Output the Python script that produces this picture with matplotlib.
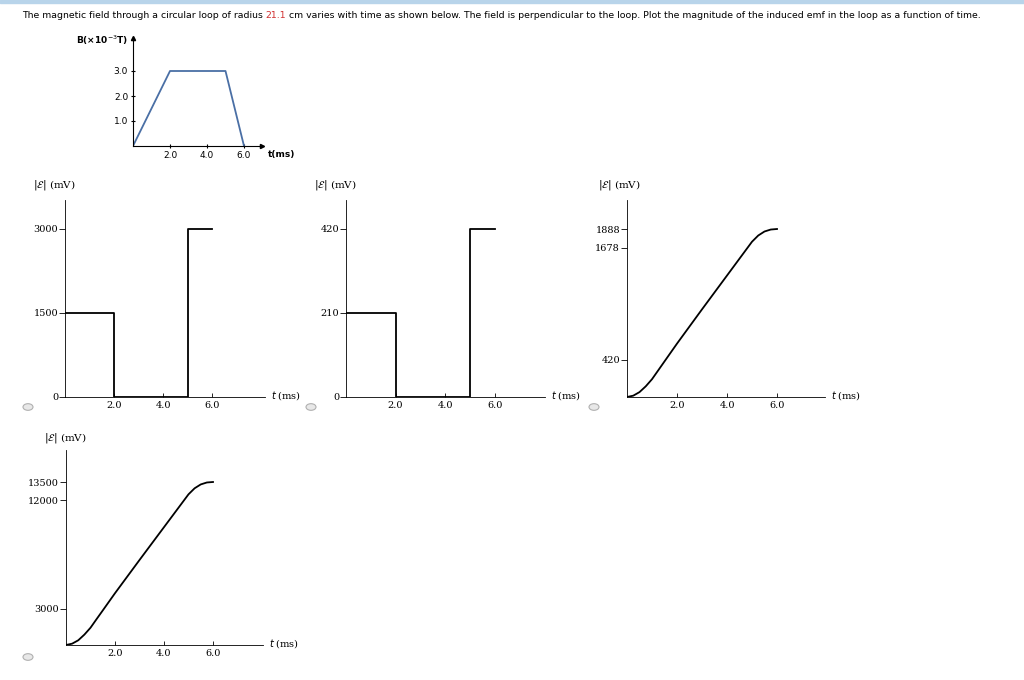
import matplotlib
matplotlib.use("Agg")
import matplotlib.pyplot as plt

W, H = 1024, 680
fig = plt.figure(figsize=(W/100, H/100), dpi=100)

# data
b_t = [0, 2, 5, 6]
b_v = [0, 3.0, 3.0, 0]
b_ticks = [2.0, 4.0, 6.0]
b_yticks = [1.0, 2.0, 3.0]

step_t = [0, 2, 2, 5, 5, 6]
stepA = [1500, 1500, 0, 0, 3000, 3000]
stepB = [210, 210, 0, 0, 420, 420]
curve_t = [0, 0.25, 0.5, 0.75, 1, 1.25, 1.5, 2, 3, 4, 5, 5.25, 5.5, 5.75, 6]
curveC = [0, 15, 55, 120, 200, 300, 400, 600, 985, 1365, 1745, 1815, 1860, 1882, 1888]
curveD = [0, 110, 390, 860, 1430, 2150, 2860, 4290, 7040, 9760, 12480, 12980, 13300, 13460, 13500]
xt = [2.0, 4.0, 6.0]
yA = [0, 1500, 3000]; yB = [0, 210, 420]; yC = [420, 1678, 1888]; yD = [3000, 12000, 13500]

def pax(x0, ytop, x1, ybot):
    return fig.add_axes([x0/W, 1-ybot/H, (x1-x0)/W, (ybot-ytop)/H])

fig.add_artist(plt.Rectangle((0, 1-3/H), 1, 3/H, color='#b8d4ea', transform=fig.transFigure))
parts = [("The magnetic field through a circular loop of radius ", 'black'), ("21.1", '#d03030'),
         (" cm varies with time as shown below. The field is perpendicular to the loop. Plot the magnitude of the induced emf in the loop as a function of time.", 'black')]
r = fig.canvas.get_renderer()
x = 22
for s, c in parts:
    t = fig.text(x/W, 1-16/H, s, fontsize=6.75, va='center', color=c)
    x += t.get_window_extent(r).width

ax = pax(133, 38, 262, 146)
ax.plot(b_t, b_v, color='#4a6fa5', lw=1.3)
ax.set_xlim(0, (262-133)/18.5); ax.set_ylim(0, 108/25)
for s in ['top', 'right']: ax.spines[s].set_visible(False)
ax.set_xticks(b_ticks); ax.set_xticklabels([f"{v:.1f}" for v in b_ticks], fontsize=6.5)
ax.set_yticks(b_yticks); ax.set_yticklabels([f"{v:.1f}" for v in b_yticks], fontsize=6.5)
ax.tick_params(length=3, width=0.8, direction='inout', pad=2)
ax.plot(1, 0, '>k', transform=ax.transAxes, clip_on=False, ms=3)
ax.plot(0, 1, '^k', transform=ax.transAxes, clip_on=False, ms=3)
fig.text(128/W, 1-40/H, r"B(×10$^{-3}$T)", fontsize=6.5, fontweight='bold', va='center', ha='right')
fig.text(268/W, 1-154/H, "t(ms)", fontsize=6.5, fontweight='bold', va='center')

def panel(x0, ybot, ms, x1, ytop, top_val, top_px, t, v, yt, lx, ly):
    ax = pax(x0, ytop, x1, ybot)
    ax.plot(t, v, color='black', lw=1.3)
    ax.set_xlim(0, (x1-x0)/ms)
    ax.set_ylim(0, (ybot-ytop)*top_val/(ybot-top_px))
    for s in ['top', 'right']: ax.spines[s].set_visible(False)
    for s in ['left', 'bottom']: ax.spines[s].set_linewidth(0.6)
    ax.set_xticks(xt); ax.set_xticklabels([f"{v:.1f}" for v in xt], fontsize=7, family='DejaVu Serif')
    ax.set_yticks(yt); ax.set_yticklabels([str(v) for v in yt], fontsize=7, family='DejaVu Serif')
    ax.tick_params(axis='y', length=4, width=0.6, direction='out', pad=1)
    ax.tick_params(axis='x', length=3, width=0.6, direction='in', pad=3)
    fig.text((x1+6)/W, 1-(ybot-1)/H, r"$t$ (ms)", fontsize=7, family='DejaVu Serif', va='center')
    fig.text(lx/W, 1-ly/H, r"$|\mathcal{E}|$ (mV)", fontsize=7.5, family='DejaVu Serif', va='center')

panel(65, 397, 24.5, 265, 200, 3000, 229, step_t, stepA, yA, 33, 185)
panel(346, 397, 24.8, 545, 200, 420, 229, step_t, stepB, yB, 314, 185)
panel(627, 397, 25.0, 825, 200, 1888, 229, curve_t, curveC, yC, 598, 185)
panel(66, 645, 24.5, 263, 450, 13500, 482, curve_t, curveD, yD, 44, 438)

for (x, y) in [(28, 407), (311, 407), (594, 407), (28, 657)]:
    fig.add_artist(plt.Circle((x/W, 1-y/H), 5/W, transform=fig.transFigure,
                              facecolor='#e8e8e8', edgecolor='#b0b0b0', lw=0.8))

fig.savefig("out.png", dpi=100)
